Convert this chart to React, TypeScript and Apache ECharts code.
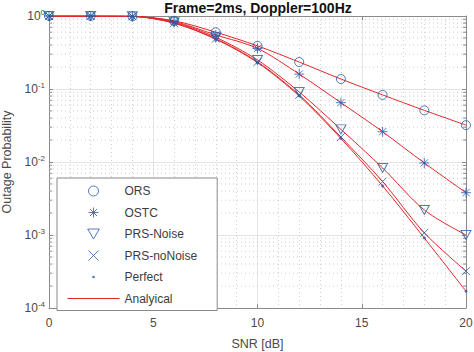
import React, { useEffect, useRef } from 'react';
import * as echarts from 'echarts';

const titleText = 'Frame=2ms, Doppler=100Hz';
const xName = 'SNR [dB]';
const yName = 'Outage Probability';

const snr = [0, 2, 4, 6, 8, 10, 12, 14, 16, 18, 20];
const ors = [1, 1, 0.99, 0.86, 0.6, 0.39, 0.234, 0.137, 0.083, 0.051, 0.032];
const ostc = [1, 1, 0.99, 0.84, 0.55, 0.36, 0.16, 0.065, 0.026, 0.0097, 0.0038];
const prsNoise = [1, 1, 0.99, 0.82, 0.51, 0.25, 0.091, 0.028, 0.0083, 0.0022, 0.001];
const prsNoNoise = [1, 1, 0.99, 0.8, 0.49, 0.235, 0.083, 0.022, 0.0054, 0.00107, 0.00032];
const perfect = [1, 1, 0.99, 0.8, 0.48, 0.23, 0.08, 0.021, 0.0047, 0.00091, 0.00017];

const schemeNames = ['ORS', 'OSTC', 'PRS-Noise', 'PRS-noNoise', 'Perfect'];
const analyticalName = 'Analyical';
const xTicks = [0, 5, 10, 15, 20];
const yMin = 1e-4;
const yMax = 1;

const BLUE = '#2b5aa8';
const RED = '#e3262b';
const AXIS = '#8a8a8a';
const LABEL = '#4a4a4a';
const FONT = '"Liberation Sans", Arial, Helvetica, sans-serif';

const SYM_CIRCLE = 'path://M5 0A5 5 0 1 1 -5 0A5 5 0 1 1 5 0Z';
const SYM_STAR = 'path://M0 -5L0 5M-5 0L5 0M-3.6 -3.6L3.6 3.6M-3.6 3.6L3.6 -3.6';
const SYM_TRI = 'path://M-5 -4.3L5 -4.3L0 4.3Z';
const SYM_X = 'path://M-4 -4L4 4M-4 4L4 -4';
const ICON_DOT = 'path://M-5 -5M5 5M1.3 0A1.3 1.3 0 1 1 -1.3 0A1.3 1.3 0 1 1 1.3 0Z';
const ICON_LINE = 'path://M0 -5M0 5M0 0L52 0';

const minorValues: number[] = [];
for (let d = -4; d < 0; d++) {
  for (let m = 2; m <= 9; m++) minorValues.push(m * Math.pow(10, d));
}

export default function App() {
  const ref = useRef<HTMLDivElement>(null);
  useEffect(() => {
    if (!ref.current) return;
    const chart = echarts.init(ref.current, null, { renderer: 'svg' });
    const allData = [ors, ostc, prsNoise, prsNoNoise, perfect];
    const symbols = [SYM_CIRCLE, SYM_STAR, SYM_TRI, SYM_X, 'circle'];
    const sizes = [9, 10, [10, 9], 8, 3];
    const toPairs = (arr: number[]) => arr.map((v, i) => [snr[i], v]);

    const lineSeries = allData.map((arr) => ({
      type: 'line',
      name: analyticalName,
      data: toPairs(arr),
      smooth: 0.3,
      symbol: 'none',
      showSymbol: false,
      lineStyle: { color: RED, width: 1 },
      itemStyle: { color: RED },
      z: 3,
      silent: true,
    }));

    const markerSeries = allData.map((arr, k) => ({
      type: 'scatter',
      name: schemeNames[k],
      data: toPairs(arr),
      symbol: symbols[k],
      symbolSize: sizes[k],
      itemStyle:
        k === 4
          ? { color: BLUE }
          : { color: 'rgba(0,0,0,0)', borderColor: BLUE, borderWidth: 1 },
      z: 4,
      silent: true,
    }));

    const minorSeries = {
      type: 'custom',
      name: 'minor',
      data: minorValues.map((v) => [0, v]),
      encode: { x: 0, y: 1 },
      clip: false,
      silent: true,
      z: 1,
      renderItem: (params: any, api: any) => {
        const v = api.value(1);
        const p0 = api.coord([0, v]);
        const p1 = api.coord([20, v]);
        return {
          type: 'group',
          children: [
            {
              type: 'line',
              shape: { x1: p0[0], y1: p0[1], x2: p1[0], y2: p1[1] },
              style: { stroke: '#cfcfcf', lineWidth: 1, lineDash: [1, 3] },
            },
            {
              type: 'line',
              shape: { x1: p0[0], y1: p0[1], x2: p0[0] + 3, y2: p0[1] },
              style: { stroke: AXIS, lineWidth: 1 },
            },
            {
              type: 'line',
              shape: { x1: p1[0], y1: p1[1], x2: p1[0] - 3, y2: p1[1] },
              style: { stroke: AXIS, lineWidth: 1 },
            },
          ],
        };
      },
    };

    const legendData: any[] = schemeNames.map((n, k) =>
      k === 4 ? { name: n, icon: ICON_DOT } : { name: n }
    );
    legendData.push({
      name: analyticalName,
      icon: ICON_LINE,
      itemStyle: { color: 'rgba(0,0,0,0)', borderColor: RED, borderWidth: 1 },
    });

    chart.setOption({
      animation: false,
      backgroundColor: '#ffffff',
      textStyle: { fontFamily: FONT },
      title: {
        text: titleText,
        left: 258,
        textAlign: 'center',
        top: 1,
        padding: 0,
        textStyle: { fontFamily: FONT, fontSize: 14, fontWeight: 'bold', color: '#111111' },
      },
      grid: { left: 49, right: 8, top: 16, bottom: 44, containLabel: false, outerBoundsMode: 'none' },
      legend: {
        orient: 'vertical',
        left: 57,
        top: 178,
        padding: [7, 20, 6, 10],
        itemWidth: 52,
        itemHeight: 10,
        itemGap: 9.5,
        selectedMode: false,
        backgroundColor: '#ffffff',
        borderColor: AXIS,
        borderWidth: 1,
        borderRadius: 0,
        itemStyle: { borderWidth: 1 },
        textStyle: { fontFamily: FONT, fontSize: 12, color: '#3c3c3c' },
        data: legendData,
      },
      xAxis: [
        {
          type: 'value',
          min: 0,
          max: 20,
          interval: 5,
          name: xName,
          nameLocation: 'middle',
          nameGap: 29,
          nameTextStyle: { fontFamily: FONT, fontSize: 12.5, color: LABEL },
          axisLine: { show: true, onZero: false, lineStyle: { color: AXIS, width: 1 } },
          axisTick: { show: true, inside: true, length: 4, lineStyle: { color: AXIS } },
          axisLabel: {
            fontFamily: FONT,
            fontSize: 12,
            color: LABEL,
            margin: 9,
            formatter: (v: number) => (xTicks.includes(v) ? String(v) : ''),
          },
          splitLine: { show: true, lineStyle: { color: '#e4e4e4', width: 1 } },
          minorTick: { show: false, splitNumber: 5 },
          minorSplitLine: { show: true, lineStyle: { color: '#cfcfcf', width: 1, type: [1, 3] } },
        },
        {
          type: 'value',
          position: 'top',
          min: 0,
          max: 20,
          interval: 5,
          axisLine: { show: true, onZero: false, lineStyle: { color: AXIS, width: 1 } },
          axisTick: { show: true, inside: true, length: 4, lineStyle: { color: AXIS } },
          axisLabel: { show: false },
          splitLine: { show: false },
        },
      ],
      yAxis: [
        {
          type: 'log',
          logBase: 10,
          min: yMin,
          max: yMax,
          interval: 1,
          name: yName,
          nameLocation: 'middle',
          nameGap: 36,
          nameTextStyle: { fontFamily: FONT, fontSize: 12.5, color: LABEL },
          axisLine: { show: true, onZero: false, lineStyle: { color: AXIS, width: 1 } },
          axisTick: { show: true, inside: true, length: 4, lineStyle: { color: AXIS } },
          axisLabel: {
            fontFamily: FONT,
            margin: 4,
            formatter: (v: number) => {
              const e = Math.round(Math.log10(v));
              return `{b|10}{e|${e}}`;
            },
            rich: {
              b: { fontFamily: FONT, fontSize: 12, color: LABEL },
              e: { fontFamily: FONT, fontSize: 8, color: LABEL, padding: [0, 0, 8, 0] },
            },
          },
          splitLine: { show: true, lineStyle: { color: '#e4e4e4', width: 1 } },
        },
        {
          type: 'log',
          logBase: 10,
          position: 'right',
          min: yMin,
          max: yMax,
          interval: 1,
          axisLine: { show: true, onZero: false, lineStyle: { color: AXIS, width: 1 } },
          axisTick: { show: true, inside: true, length: 4, lineStyle: { color: AXIS } },
          axisLabel: { show: false },
          splitLine: { show: false },
        },
      ],
      series: [minorSeries, ...lineSeries, ...markerSeries],
    });
    return () => chart.dispose();
  }, []);
  return <div ref={ref} style={{ width: 474, height: 352, position: 'absolute', left: 0, top: 0 }} />;
}
